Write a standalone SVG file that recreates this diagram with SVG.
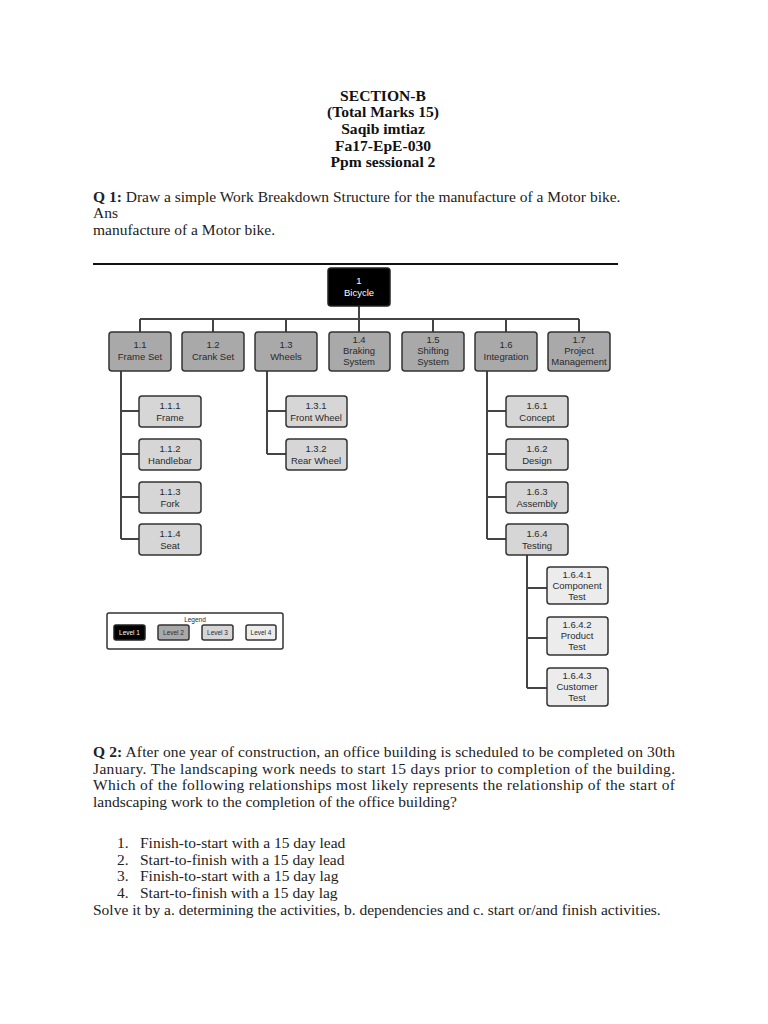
<svg xmlns="http://www.w3.org/2000/svg" width="768" height="1024" viewBox="0 0 768 1024">
<style>
.hd{font-family:"Liberation Serif",serif;font-size:15.6px;font-weight:bold;fill:#111;text-anchor:middle}
.tx{font-family:"Liberation Serif",serif;font-size:15.5px;fill:#222}
.b{font-weight:bold}
.n1{fill:#000;stroke:#222;stroke-width:1.5}
.n2{fill:#a9a9a9;stroke:#333;stroke-width:1.5}
.n3{fill:#d6d6d6;stroke:#333;stroke-width:1.5}
.n4{fill:#ececec;stroke:#333;stroke-width:1.5}
.lb{font-family:"Liberation Sans",Arial,sans-serif;font-size:9.5px;fill:#2a2a2a;text-anchor:middle}
.lw{fill:#fff}
.cn{stroke:#444;stroke-width:2;fill:none}
</style>
<rect width="768" height="1024" fill="#fff"/>
<g id="header">
<text class="hd" x="383" y="101">SECTION-B</text>
<text class="hd" x="383" y="117">(Total Marks 15)</text>
<text class="hd" x="383" y="134">Saqib imtiaz</text>
<text class="hd" x="383" y="151">Fa17-EpE-030</text>
<text class="hd" x="383" y="167">Ppm sessional 2</text>
</g>
<g id="q1">
<text class="tx" x="93" y="202"><tspan class="b">Q 1:</tspan> Draw a simple Work Breakdown Structure for the manufacture of a Motor bike.</text>
<text class="tx" x="93" y="218">Ans</text>
<text class="tx" x="93" y="235">manufacture of a Motor bike.</text>
<line x1="93" y1="264" x2="618" y2="264" stroke="#111" stroke-width="2"/>
</g>
<g id="connectors">
<path class="cn" d="M359 306V319M140 319H579M140 319V332M213 319V332M286 319V332M359 319V332M433 319V332M506 319V332M579 319V332"/>
<path class="cn" d="M121 371V539M121 411H139M121 454H139M121 497H139M121 539H139"/>
<path class="cn" d="M267 371V454M267 411H286M267 454H286"/>
<path class="cn" d="M487 371V539M487 411H506M487 454H506M487 497H506M487 539H506"/>
<path class="cn" d="M527 555V688M527 588H547M527 638H547M527 688H547"/>
</g>
<g id="n1"><rect class="n1" x="328" y="268" width="62" height="38" rx="3"/><text class="lb lw" x="359" y="284">1</text><text class="lb lw" x="359" y="296">Bicycle</text></g>
<g id="n1-1"><rect class="n2" x="109" y="332" width="62" height="39" rx="3"/><text class="lb" x="140" y="348">1.1</text><text class="lb" x="140" y="360">Frame Set</text></g>
<g id="n1-2"><rect class="n2" x="182" y="332" width="62" height="39" rx="3"/><text class="lb" x="213" y="348">1.2</text><text class="lb" x="213" y="360">Crank Set</text></g>
<g id="n1-3"><rect class="n2" x="255" y="332" width="62" height="39" rx="3"/><text class="lb" x="286" y="348">1.3</text><text class="lb" x="286" y="360">Wheels</text></g>
<g id="n1-4"><rect class="n2" x="329" y="332" width="61" height="39" rx="3"/><text class="lb" x="359" y="343">1.4</text><text class="lb" x="359" y="354">Braking</text><text class="lb" x="359" y="365">System</text></g>
<g id="n1-5"><rect class="n2" x="402" y="332" width="62" height="39" rx="3"/><text class="lb" x="433" y="343">1.5</text><text class="lb" x="433" y="354">Shifting</text><text class="lb" x="433" y="365">System</text></g>
<g id="n1-6"><rect class="n2" x="475" y="332" width="62" height="39" rx="3"/><text class="lb" x="506" y="348">1.6</text><text class="lb" x="506" y="360">Integration</text></g>
<g id="n1-7"><rect class="n2" x="548" y="332" width="62" height="39" rx="3"/><text class="lb" x="579" y="343">1.7</text><text class="lb" x="579" y="354">Project</text><text class="lb" x="579" y="365">Management</text></g>
<g id="n1-1-1"><rect class="n3" x="139" y="396" width="62" height="31" rx="3"/><text class="lb" x="170" y="409">1.1.1</text><text class="lb" x="170" y="421">Frame</text></g>
<g id="n1-1-2"><rect class="n3" x="139" y="439" width="62" height="31" rx="3"/><text class="lb" x="170" y="452">1.1.2</text><text class="lb" x="170" y="464">Handlebar</text></g>
<g id="n1-1-3"><rect class="n3" x="139" y="482" width="62" height="31" rx="3"/><text class="lb" x="170" y="495">1.1.3</text><text class="lb" x="170" y="507">Fork</text></g>
<g id="n1-1-4"><rect class="n3" x="139" y="524" width="62" height="31" rx="3"/><text class="lb" x="170" y="537">1.1.4</text><text class="lb" x="170" y="549">Seat</text></g>
<g id="n1-3-1"><rect class="n3" x="286" y="396" width="61" height="31" rx="3"/><text class="lb" x="316" y="409">1.3.1</text><text class="lb" x="316" y="421">Front Wheel</text></g>
<g id="n1-3-2"><rect class="n3" x="286" y="439" width="61" height="31" rx="3"/><text class="lb" x="316" y="452">1.3.2</text><text class="lb" x="316" y="464">Rear Wheel</text></g>
<g id="n1-6-1"><rect class="n3" x="506" y="396" width="62" height="31" rx="3"/><text class="lb" x="537" y="409">1.6.1</text><text class="lb" x="537" y="421">Concept</text></g>
<g id="n1-6-2"><rect class="n3" x="506" y="439" width="62" height="31" rx="3"/><text class="lb" x="537" y="452">1.6.2</text><text class="lb" x="537" y="464">Design</text></g>
<g id="n1-6-3"><rect class="n3" x="506" y="482" width="62" height="31" rx="3"/><text class="lb" x="537" y="495">1.6.3</text><text class="lb" x="537" y="507">Assembly</text></g>
<g id="n1-6-4"><rect class="n3" x="506" y="524" width="62" height="31" rx="3"/><text class="lb" x="537" y="537">1.6.4</text><text class="lb" x="537" y="549">Testing</text></g>
<g id="n1-6-4-1"><rect class="n4" x="547" y="567" width="61" height="37" rx="3"/><text class="lb" x="577" y="578">1.6.4.1</text><text class="lb" x="577" y="589">Component</text><text class="lb" x="577" y="600">Test</text></g>
<g id="n1-6-4-2"><rect class="n4" x="547" y="617" width="61" height="38" rx="3"/><text class="lb" x="577" y="628">1.6.4.2</text><text class="lb" x="577" y="639">Product</text><text class="lb" x="577" y="650">Test</text></g>
<g id="n1-6-4-3"><rect class="n4" x="547" y="668" width="61" height="38" rx="3"/><text class="lb" x="577" y="679">1.6.4.3</text><text class="lb" x="577" y="690">Customer</text><text class="lb" x="577" y="701">Test</text></g>
<g id="legend">
<rect x="107" y="613" width="176" height="36" rx="2" fill="#fff" stroke="#333" stroke-width="1.5"/>
<text class="lb" x="195" y="622" style="font-size:6.5px">Legend</text>
<rect class="n1" x="114" y="625" width="31" height="15" rx="2"/><text class="lb lw" x="129.5" y="635" style="font-size:6.5px">Level 1</text>
<rect class="n2" x="158" y="625" width="31" height="15" rx="2"/><text class="lb" x="173.5" y="635" style="font-size:6.5px">Level 2</text>
<rect class="n3" x="202" y="625" width="31" height="15" rx="2"/><text class="lb" x="217.5" y="635" style="font-size:6.5px">Level 3</text>
<rect class="n4" x="246" y="625" width="30" height="15" rx="2"/><text class="lb" x="261" y="635" style="font-size:6.5px">Level 4</text>
</g>
<g id="q2">
<text class="tx" x="93" y="757" textLength="582" lengthAdjust="spacing"><tspan class="b">Q 2:</tspan> After one year of construction, an office building is scheduled to be completed on 30th</text>
<text class="tx" x="93" y="774" textLength="582" lengthAdjust="spacing">January. The landscaping work needs to start 15 days prior to completion of the building.</text>
<text class="tx" x="93" y="790" textLength="582" lengthAdjust="spacing">Which of the following relationships most likely represents the relationship of the start of</text>
<text class="tx" x="93" y="807">landscaping work to the completion of the office building?</text>
<text class="tx" x="117" y="848">1.</text><text class="tx" x="140" y="848">Finish-to-start with a 15 day lead</text>
<text class="tx" x="117" y="865">2.</text><text class="tx" x="140" y="865">Start-to-finish with a 15 day lead</text>
<text class="tx" x="117" y="881">3.</text><text class="tx" x="140" y="881">Finish-to-start with a 15 day lag</text>
<text class="tx" x="117" y="898">4.</text><text class="tx" x="140" y="898">Start-to-finish with a 15 day lag</text>
<text class="tx" x="93" y="915">Solve it by a. determining the activities, b. dependencies and c. start or/and finish activities.</text>
</g>
</svg>
